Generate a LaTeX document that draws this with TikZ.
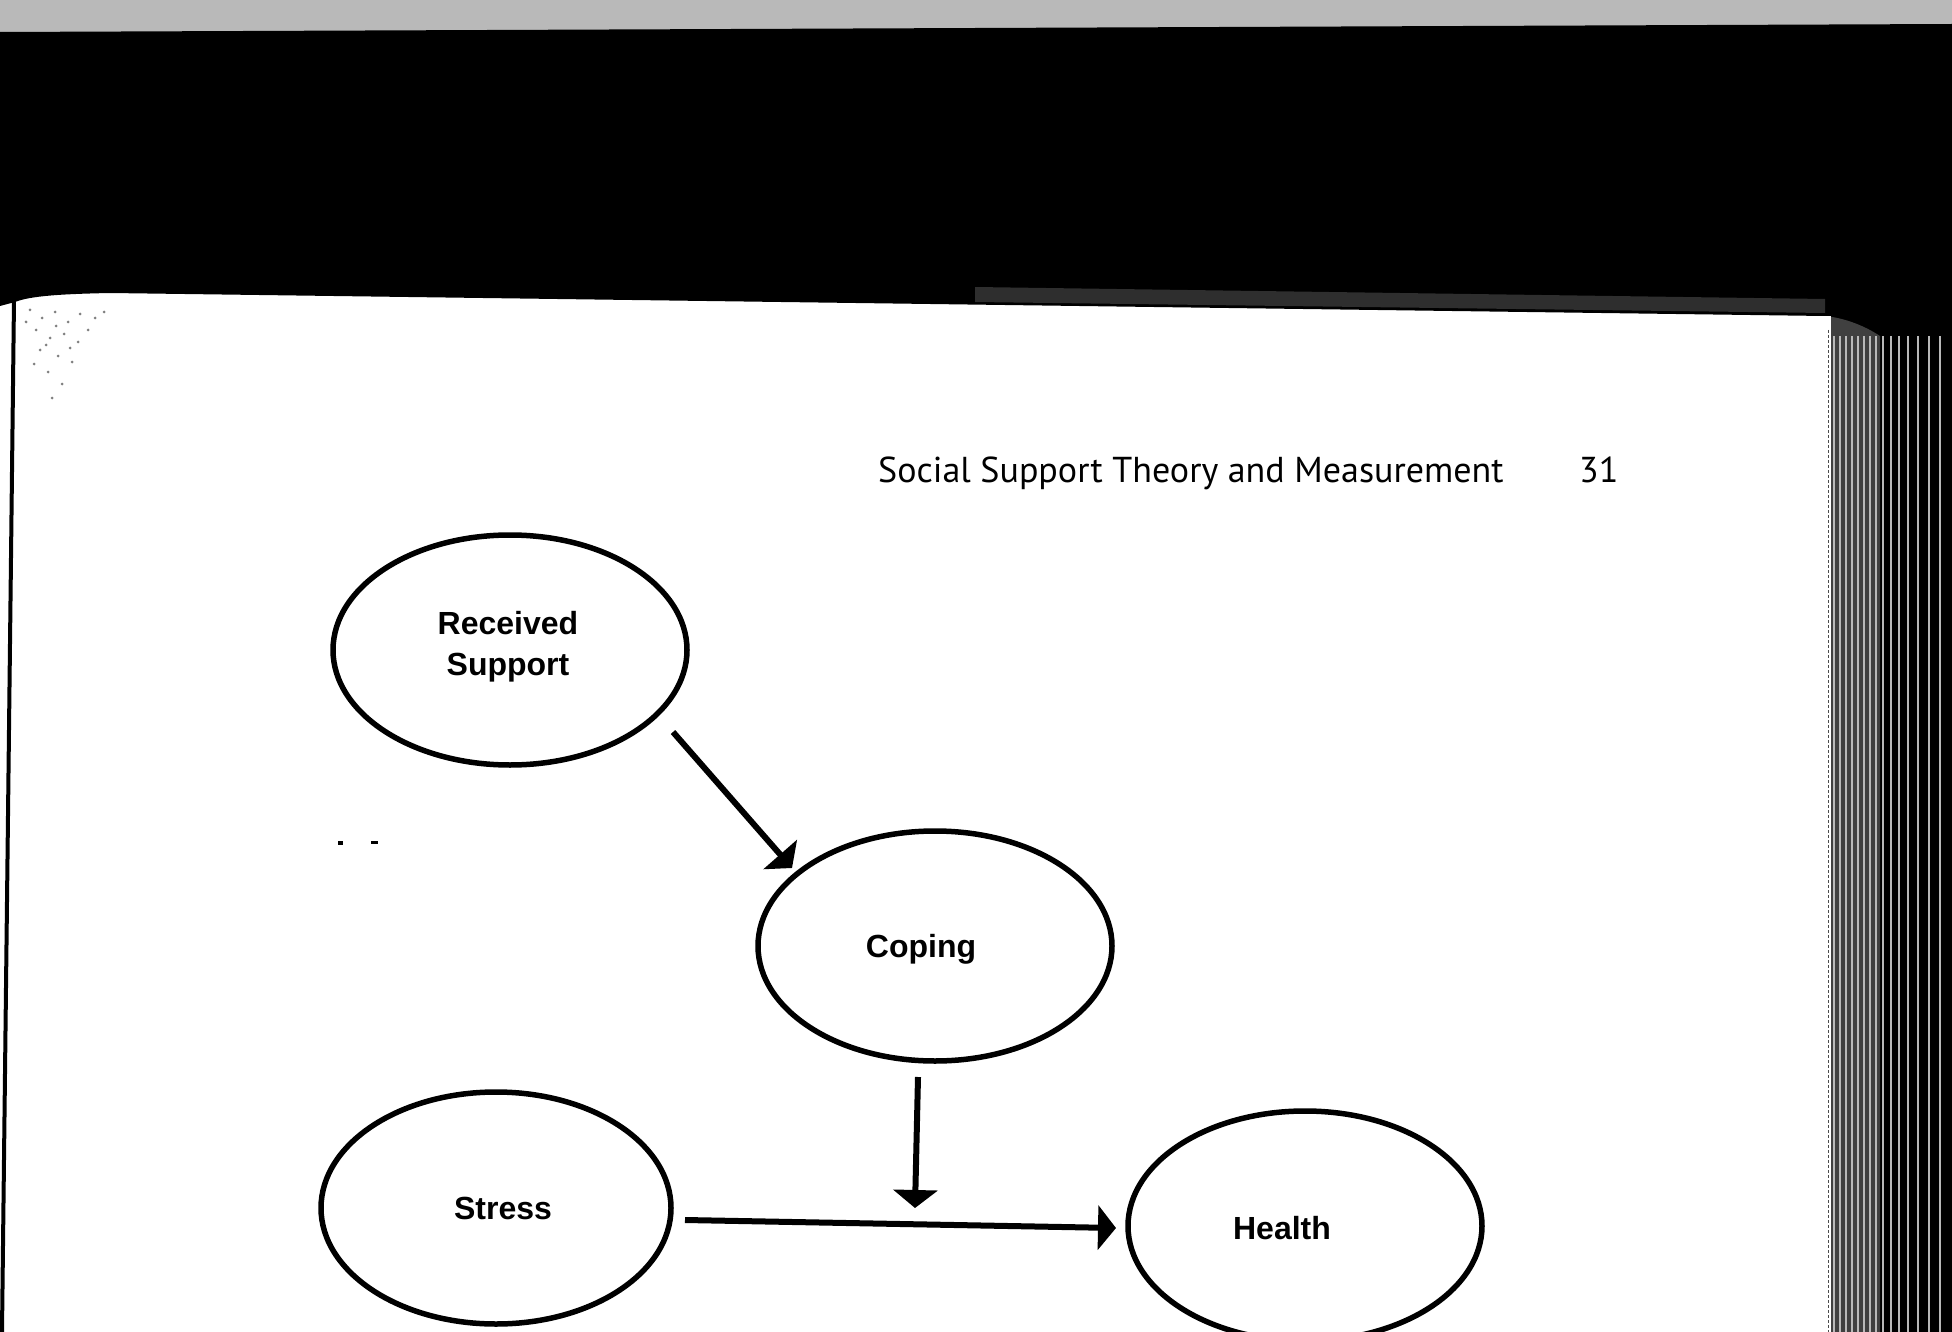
\documentclass[tikz,border=0pt]{standalone}
\usepackage{fontspec}
\setmainfont{Liberation Sans}
\newfontfamily\hdrfont{PT Sans}
\usetikzlibrary{shapes.geometric,arrows.meta}
\begin{document}
\begin{tikzpicture}[x=1pt,y=-1pt,
  oval/.style={ellipse, draw, line width=5.5pt, minimum width=354pt, minimum height=230pt, inner sep=0pt},
  lbl/.style={inner sep=0pt, align=center, font=\bfseries\fontsize{32}{41}\selectfont},
  hdr/.style={inner sep=0pt, anchor=base west, font=\hdrfont\fontsize{36}{40}\selectfont},
  link/.style={line width=6pt, -{Triangle[width=44pt,length=18pt]}}]
\useasboundingbox (0,0) rectangle (1952,1332);
\fill[white] (0,0) rectangle (1952,1332);
% top band
\fill[gray!55] (0,0) rectangle (1952,40);
\fill[black] (0,32) -- (1952,24) -- (1952,1332) -- (1825,1332) -- (1825,316)
  -- (110,293) .. controls (60,294) and (30,296) .. (15,302) -- (0,306) -- cycle;
\fill[black!82] (975,287) -- (1825,299) -- (1825,313) -- (975,302) -- cycle;
% right book edge
\fill[black!75] (1825,316) .. controls (1845,318) and (1865,326) .. (1880,336) -- (1880,1332) -- (1825,1332) -- cycle;
\foreach \x in {1828,1834,1840,1846,1852,1858,1864,1870,1876,1883,1891,1899,1908,1918,1929,1940}
  \draw[gray!55, line width=1.1pt] (\x,336) -- (\x,1332);
\fill[white] (1825,316) rectangle (1831,1332);
\draw[black!70, line width=1pt, dash pattern=on 3pt off 2pt] (1828,330) -- (1828,1332);
% left page edge
\draw[line width=4pt] (14,300) -- (2,1332);
\foreach \p in {(30,310),(42,318),(55,312),(68,322),(80,314),(95,318),(36,330),(50,338),(64,334),(78,342),(40,350),(58,356),(72,362),(48,372),(62,384),(52,398),(88,330),(104,312),(26,322),(34,364),(46,345),(70,348),(56,326)}
  \fill[gray] \p circle (1.5pt);
% stray marks
\fill (338,841) rectangle (343,845);
\fill (371,841) rectangle (378,844);
% header
\node[hdr] (title) at (878,482) {Social Support Theory and Measurement};
\node[hdr] (page) at (1579,482) {31};
% ellipses
\node[oval] (rs) at (510,650) {};
\node[lbl] (rst) at (508,647) {Received\\Support};
\node[oval] (cop) at (935,946) {};
\node[lbl] (copt) at (921,949) {Coping};
\node[oval, minimum width=350pt, minimum height=232pt] (str) at (496,1208) {};
\node[lbl] (strt) at (503,1208) {Stress};
\node[oval] (hea) at (1305,1226) {};
\node[lbl] (heat) at (1282,1228) {Health};
% connectors
\coordinate (a1s) at (673,732);
\coordinate (a1e) at (792,868);
\coordinate (a2s) at (918,1077);
\coordinate (a2e) at (915,1208);
\coordinate (a3s) at (685,1220);
\coordinate (a3e) at (1116,1228);
\draw[link] (a1s) -- (a1e);
\draw[link] (a2s) -- (a2e);
\draw[link] (a3s) -- (a3e);
\end{tikzpicture}
\end{document}
